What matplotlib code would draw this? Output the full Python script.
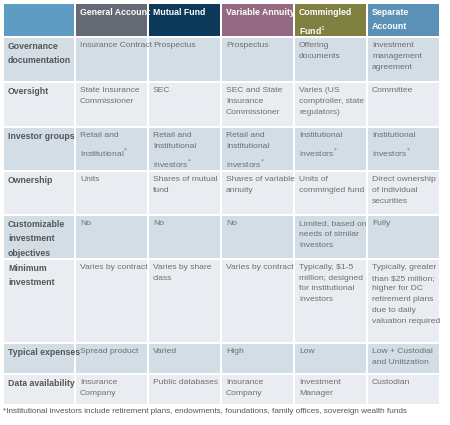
import matplotlib
matplotlib.use("Agg")
import matplotlib.pyplot as plt
from matplotlib.patches import Rectangle

plt.rcParams['font.family'] = ['Liberation Sans', 'DejaVu Sans']

# table content
headers = ["", "General Account", "Mutual Fund", "Variable Annuity",
           "Commingled\nFund$^{1}$", "Separate\nAccount"]
rowLabels = ["Governance\ndocumentation", "Oversight", "Investor groups", "Ownership",
             "Customizable\ninvestment\nobjectives", "Minimum\ninvestment",
             "Typical expenses", "Data availability"]
cells = [
    ["Insurance Contract", "Prospectus", "Prospectus", "Offering\ndocuments",
     "Investment\nmanagement\nagreement"],
    ["State Insurance\nCommissioner", "SEC", "SEC and State\nInsurance\nCommissioner",
     "Varies (US\ncomptroller, state\nregulators)", "Committee"],
    ["Retail and\nInstitutional$^{*}$", "Retail and\nInstitutional\ninvestors$^{*}$",
     "Retail and\nInstitutional\ninvestors$^{*}$", "Institutional\ninvestors$^{*}$",
     "Institutional\ninvestors$^{*}$"],
    ["Units", "Shares of mutual\nfund", "Shares of variable\nannuity",
     "Units of\ncommingled fund", "Direct ownership\nof individual\nsecurities"],
    ["No", "No", "No", "Limited, based on\nneeds of similar\ninvestors", "Fully"],
    ["Varies by contract", "Varies by share\nclass", "Varies by contract",
     "Typically, $1-5\nmillion; designed\nfor institutional\ninvestors",
     "Typically, greater\nthan $25 million;\nhigher for DC\nretirement plans\ndue to daily\nvaluation required"],
    ["Spread product", "Varied", "High", "Low", "Low + Custodial\nand Unitization"],
    ["Insurance\nCompany", "Public databases", "Insurance\nCompany", "Investment\nManager",
     "Custodian"],
]
footnote = "*Institutional investors include retirement plans, endowments, foundations, family offices, sovereign wealth funds"

# layout (pixels)
colEdges = [3, 75, 148, 221, 294, 367, 440]
rowEdges = [3, 37, 82, 127, 171, 215, 259, 343, 374, 405]
headerColors = ["#5e9cc3", "#646a74", "#0d3a5b", "#946a82", "#7f7f3f", "#5b91b7"]
rowColors = ["#d3dde6", "#e9edf2"]
gap = 1.2

fig = plt.figure(figsize=(4.5, 4.25), dpi=100)
ax = fig.add_axes([0, 0, 1, 1])
ax.set_xlim(0, 450)
ax.set_ylim(425, 0)
ax.axis("off")

def drawCell(x0, x1, y0, y1, color):
    ax.add_patch(Rectangle((x0 + gap / 2, y0 + gap / 2), x1 - x0 - gap, y1 - y0 - gap,
                           facecolor=color, edgecolor="none"))

# header
for j, text in enumerate(headers):
    drawCell(colEdges[j], colEdges[j + 1], rowEdges[0], rowEdges[1], headerColors[j])
    ax.text(colEdges[j] + 5, rowEdges[0] + 5, text, color="white", fontsize=6.3,
            fontweight="bold", va="top", ha="left", linespacing=1.75)

# body
for i, label in enumerate(rowLabels):
    y0, y1 = rowEdges[i + 1], rowEdges[i + 2]
    color = rowColors[i % 2]
    drawCell(colEdges[0], colEdges[1], y0, y1, color)
    ax.text(colEdges[0] + 5, y0 + 5, label, color="#555555", fontsize=6.3,
            fontweight="bold", va="top", ha="left", linespacing=1.75)
    for j, text in enumerate(cells[i]):
        drawCell(colEdges[j + 1], colEdges[j + 2], y0, y1, color)
        ax.text(colEdges[j + 1] + 5, y0 + 5, text, color="#6e6e6e", fontsize=6.1,
                va="top", ha="left", linespacing=1.75)

ax.text(3, 408, footnote, color="#555555", fontsize=5.9, va="top", ha="left")

fig.savefig("out.png", dpi=100)
